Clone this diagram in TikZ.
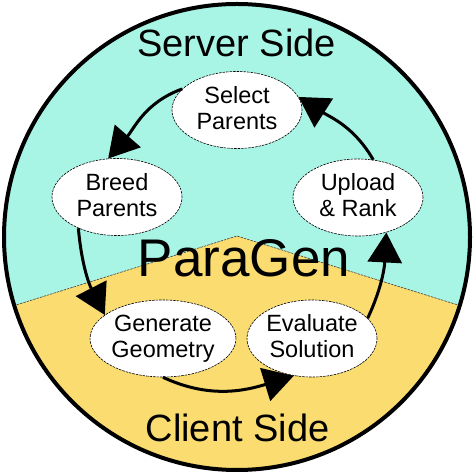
\documentclass[tikz,border=0pt]{standalone}
\usepackage{fontspec}
\setmainfont{Liberation Sans}
\usetikzlibrary{arrows.meta,shapes.geometric}
\definecolor{srv}{RGB}{168,245,230}
\definecolor{cli}{RGB}{250,220,112}
\begin{document}
\begin{tikzpicture}[x=1pt,y=1pt,
  stage/.style={ellipse,draw=black,line width=0.6pt,dash pattern=on 2.5pt off 1pt,
    fill=white,minimum width=130pt,minimum height=77pt,inner sep=0pt,align=center,
    font=\fontsize{23.5}{26}\selectfont},
  flow/.style={line width=3pt,-{Triangle[length=30pt,width=34pt]}},
  sidetitle/.style={font=\fontsize{38}{38}\selectfont,anchor=base,inner sep=0pt},
  bigtitle/.style={font=\fontsize{53}{53}\selectfont,anchor=base,inner sep=0pt},
  divider/.style={line width=0.6pt,dash pattern=on 2.5pt off 1pt,black!75}]
\useasboundingbox (0,0) rectangle (474,474);
\begin{scope}
  \clip (237,237) circle[radius=233pt];
  \fill[srv] (0,0) rectangle (474,474);
  \fill[cli] (0,164) -- (237,238) -- (474,164) -- (474,0) -- (0,0) -- cycle;
  \draw[divider] (0,164) -- (237,238) -- (474,164);
\end{scope}
\draw[line width=4pt] (237,237) circle[radius=233pt];

\node[sidetitle] (server) at (236.5,417) {Server Side};
\node[sidetitle] (client) at (237.5,32) {Client Side};
\node[bigtitle] (paragen) at (244,197) {ParaGen};

\node[stage] (sel) at (237,364) {Select\\Parents\vphantom{y}};
\node[stage] (breed) at (117,277) {Breed\\Parents\vphantom{y}};
\node[stage] (up) at (358,276.5) {Upload\\\& Rank\vphantom{y}};
\node[stage] (gen) at (163,135.5) {Generate\\Geometry};
\node[stage] (eva) at (312,135.5) {Evaluate\\Solution\vphantom{y}};

\draw[flow] (sel.159) to[out=200,in=49] (breed.103);
\draw[flow] (breed.219) to[out=-85,in=117] (gen.158);
\draw[flow] (gen.270) to[out=-25,in=197] (eva.244);
\draw[flow] (eva.20) to[out=65,in=267] (up.-51);
\draw[flow] (up.68) to[out=120,in=-32.5] (sel.12);
\end{tikzpicture}
\end{document}
